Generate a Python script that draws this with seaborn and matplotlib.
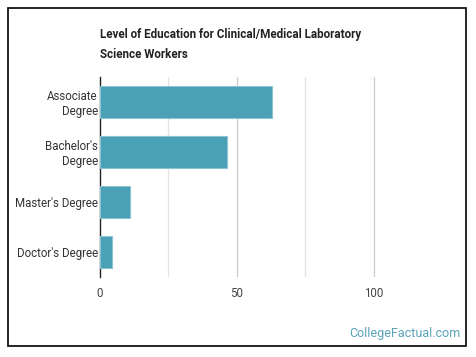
import matplotlib
matplotlib.use("Agg")
import matplotlib.pyplot as plt
import seaborn as sns
import pandas as pd
from matplotlib.patches import Rectangle

categories = ["Associate\nDegree", "Bachelor's\nDegree", "Master's Degree", "Doctor's Degree"]
values = [63, 46.5, 11, 4.5]
xticks = [0, 50, 100]
title = "Level of Education for Clinical/Medical Laboratory\nScience Workers"

sns.set_style("white")
plt.rcParams['font.family'] = ['Roboto', 'DejaVu Sans']

df = pd.DataFrame({"Degree": categories, "Value": values})

fig = plt.figure(figsize=(4.76, 3.57), dpi=100)
ax = fig.add_axes([100/476, 1 - 277/357, 342/476, 200/357])

sns.barplot(data=df, x="Value", y="Degree", orient="h", color="#4aa0b5",
            width=0.64, edgecolor="#8cc4d2", linewidth=0.8, saturation=1, ax=ax, zorder=3)

ax.set_xlim(0, 125)
ax.set_ylim(3.5, -0.5)
for x in [25, 50, 75, 100]:
    ax.axvline(x, color="#e3e3e3" if x % 50 else "#cccccc", linewidth=0.9, zorder=0)
ax.set_xticks(xticks)
ax.set_xlabel("")
ax.set_ylabel("")
ax.tick_params(axis="both", length=0, labelsize=8.3, colors="#444444")
ax.tick_params(axis="y", pad=1.5, labelcolor="#333333")
ax.tick_params(axis="x", pad=7)
for s in ["top", "right", "bottom"]:
    ax.spines[s].set_visible(False)
ax.spines["left"].set_color("#222222")
ax.spines["left"].set_linewidth(1.0)

fig.text(100/476, 1 - 28/357, title, fontsize=8.4, fontweight="bold", color="#222222",
         va="top", ha="left", linespacing=1.65)
fig.text(461/476, 1 - 334/357, "CollegeFactual.com", fontsize=9, color="#5aa3b8",
         ha="right", va="center")

fig.patches.append(Rectangle((8/476, 1 - 346/357), 458/476, 338/357, transform=fig.transFigure,
                             fill=False, edgecolor="black", linewidth=1.2))

fig.savefig("out.png", dpi=100)
